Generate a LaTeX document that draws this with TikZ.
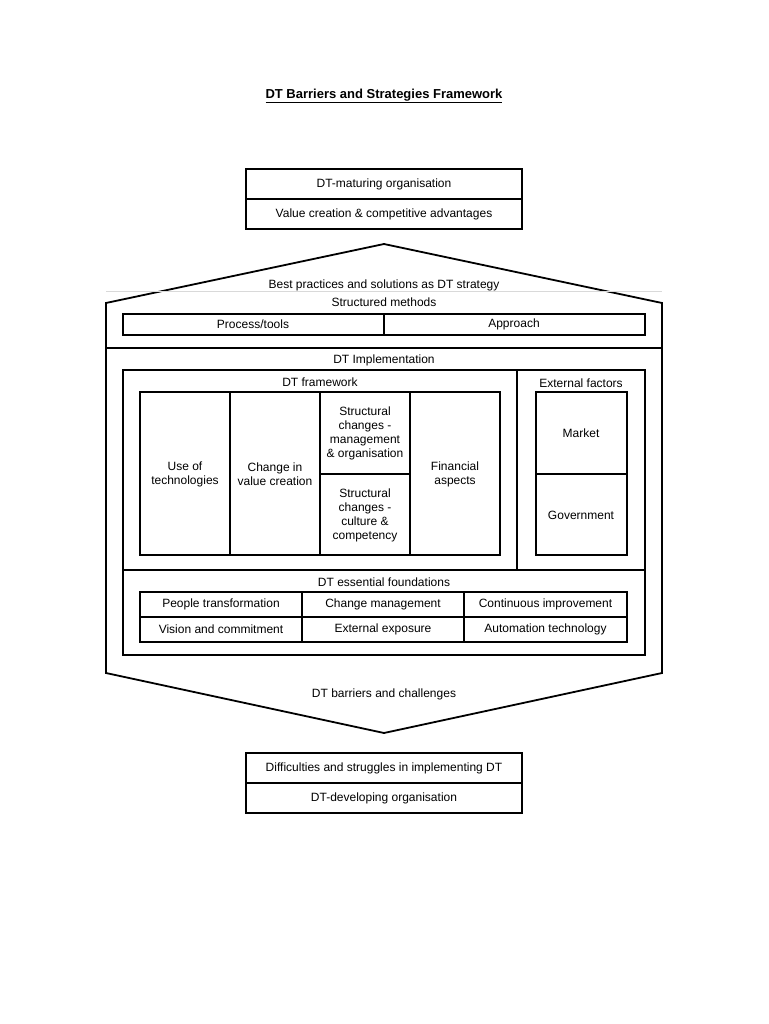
\documentclass[tikz,border=0pt]{standalone}
\usepackage{fontspec}
\setmainfont{Liberation Sans}
\begin{document}
\begin{tikzpicture}[x=1pt,y=-1pt,
  bx/.style={draw,line width=1.8pt},
  ln/.style={line width=1.8pt},
  t/.style={font=\fontsize{12}{14}\selectfont,align=center,inner sep=0pt}]
\useasboundingbox (0,0) rectangle (768,1024);
\node[t,font=\fontsize{13}{15}\selectfont\bfseries] (title) at (384,96) {\underline{DT Barriers and Strategies Framework}};
% top boxes
\draw[bx] (246,169) rectangle (522,229);
\draw[ln] (246,199) -- (522,199);
\node[t] (a1) at (384,184) {DT-maturing organisation};
\node[t] (a2) at (384,214) {Value creation \& competitive advantages};
% house
\draw[ln,line join=miter] (384,244) -- (662,303) -- (662,673) -- (384,733) -- (106,673) -- (106,303) -- cycle;
\draw[gray!30,line width=0.5pt] (106,291) -- (662,291);
\node[t] (bp) at (384,285) {Best practices and solutions as DT strategy};
\node[t] (sm) at (384,302) {Structured methods};
\draw[bx] (123,314) rectangle (645,335);
\draw[ln] (384,314) -- (384,335);
\node[t] (pt) at (253,324.5) {Process/tools};
\node[t] (ap) at (514,324.5) {Approach};
\draw[ln] (106,348) -- (662,348);
\node[t] (impl) at (384,360) {DT Implementation};
\draw[bx] (123,370) rectangle (645,655);
\draw[ln] (517,370) -- (517,570);
\draw[ln] (123,570) -- (645,570);
\node[t] (fw) at (320,382) {DT framework};
\node[t] (ef) at (581,383) {External factors};
\draw[bx] (140,392) rectangle (500,555);
\draw[ln] (230,392) -- (230,555);
\draw[ln] (320,392) -- (320,555);
\draw[ln] (410,392) -- (410,555);
\draw[ln] (320,474) -- (410,474);
\node[t] (c1) at (185,474) {Use of\\technologies};
\node[t] (c2) at (275,474) {Change in\\value creation};
\node[t] (c3) at (365,433) {Structural\\changes -\\management\\\& organisation};
\node[t] (c4) at (365,515) {Structural\\changes -\\culture \&\\competency};
\node[t] (c5) at (455,474) {Financial\\aspects};
\draw[bx] (536,392) rectangle (627,555);
\draw[ln] (536,474) -- (627,474);
\node[t] (mk) at (581,433) {Market};
\node[t] (gv) at (581,515) {Government};
\node[t] (ess) at (384,582) {DT essential foundations};
\draw[bx] (140,592) rectangle (627,642);
\draw[ln] (140,617) -- (627,617);
\draw[ln] (302,592) -- (302,642);
\draw[ln] (464,592) -- (464,642);
\node[t] (f1) at (221,604.5) {People transformation};
\node[t] (f2) at (383,604.5) {Change management};
\node[t] (f3) at (545.5,604.5) {Continuous improvement};
\node[t] (f4) at (221,629.5) {Vision and commitment};
\node[t] (f5) at (383,629.5) {External exposure};
\node[t] (f6) at (545.5,629.5) {Automation technology};
\node[t] (bc) at (384,694) {DT barriers and challenges};
% bottom boxes
\draw[bx] (246,753) rectangle (522,813);
\draw[ln] (246,783) -- (522,783);
\node[t] (b1) at (384,768) {Difficulties and struggles in implementing DT};
\node[t] (b2) at (384,798) {DT-developing organisation};
\end{tikzpicture}
\end{document}
